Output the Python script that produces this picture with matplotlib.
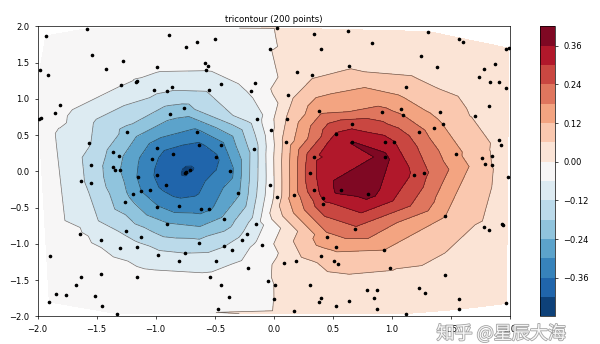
import numpy as np
import matplotlib
matplotlib.use('Agg')
import matplotlib.pyplot as plt
import matplotlib.tri as tri
import matplotlib.patheffects as pe

# sample points (200 scattered points)
x = [-1.93, -1.58, -1.98, -1.91, -1.54, -1.28, -1.42, -0.99, -1.29, -1.17,
     -1.16, -1.01, -1.81, -1.85, -1.97, -1.99, -1.24, -1.56, -1.36, -1.31,
     -1.55, -1.03, -0.99, -1.36, -1.34, -1.30,
     -0.89, -0.74, -0.65, -0.50, 0.03, -0.03, -0.58, -0.56, -0.57, -0.90,
     -0.86, -0.55, -0.45, -0.16, -0.19, -0.76, -0.88, -0.14, -0.025, -0.65,
     -0.63, -0.45, -0.85, -0.17, -0.49, -0.71, -0.74, -0.75, -0.37,
     -1.63, -1.55, -1.15, -0.99, -1.12, -1.05, -1.19, -1.26, -0.99, -1.64,
     -1.46, -1.25, -1.12, -1.30, -1.16, -0.98, -1.89, -1.46, -1.16, -1.63,
     -1.67, -1.84, -1.76, -1.51, -1.90, -1.45, -1.33, -0.91, -0.03, 0.025,
     -0.30, -0.80, -0.62, -0.55, -0.42, -0.90, -0.15, -0.23, -0.27, -0.63,
     -0.42, -0.35, -0.10, -0.75, -0.80, -0.49, -0.22, -0.54, -0.45, -0.05,
     0.008, -0.38, 0.003, -0.47,
     0.34, 0.63, 0.83, 0.40, 0.20, 0.32, 0.64, 0.12, 0.11, 0.38,
     0.92, 0.66, 0.53, 0.10, 0.66, 0.94, 1.02, 0.34, 0.94, 0.31,
     1.31, 1.57, 1.60, 1.97, 1.99, 1.25, 1.38, 1.87, 1.78, 1.74,
     1.83, 1.91, 1.97, 1.12, 1.82, 1.08, 1.09, 1.41, 1.70, 1.43,
     1.36, 1.23, 1.91, 1.92, 1.54, 1.85, 1.76, 1.79, 1.85, 1.27,
     0.17, 0.34, 0.57, 0.80, 0.42, 0.42, 0.69, 0.45, 0.53, 0.93,
     0.40, 0.085, 0.19, 0.51, 0.54, 0.98, 0.31, 0.79, 0.87, 0.40,
     0.38, 0.64, 0.85, 0.53, 0.87, 0.17, 1.19, 1.98, 1.45, 1.78,
     1.82, 1.93, 1.94, 1.45, 1.23, 1.28, 1.57, 1.57, 1.97, 1.12]

y = [1.87, 1.97, 1.40, 1.33, 1.60, 1.52, 1.41, 1.44, 1.19, 1.24,
     1.25, 1.12, 0.92, 0.81, 0.74, 0.73, 0.55, 0.39, 0.27, 0.22,
     0.09, 0.17, 0.33, 0.06, 0.02, 0.02,
     1.88, 1.72, 1.79, 1.83, 1.98, 1.69, 1.50, 1.46, 1.40, 1.11,
     1.16, 1.13, 1.20, 1.22, 1.11, 0.88, 0.79, 0.72, 0.57, 0.55,
     0.36, 0.37, 0.24, 0.31, 0.20, 0.02, -0.01, -0.02, 0.01,
     -0.13, -0.16, -0.08, -0.05, -0.27, -0.26, -0.31, -0.42, -0.49, -0.86,
     -0.94, -0.82, -0.91, -1.05, -1.04, -1.15, -1.16, -1.41, -1.45, -1.46,
     -1.57, -1.69, -1.71, -1.72, -1.80, -1.86, -1.96, -0.19, -0.18, -0.35,
     -0.30, -0.47, -0.52, -0.52, -0.66, -0.72, -0.72, -0.86, -0.95, -0.99,
     -1.03, -1.08, -1.02, -1.12, -1.24, -1.23, -1.33, -1.45, -1.56, -1.51,
     -1.56, -1.73, -1.76, -1.90,
     1.89, 1.94, 1.77, 1.69, 1.37, 1.33, 1.45, 1.05, 0.73, 0.83,
     0.82, 0.65, 0.52, 0.40, 0.40, 0.40, 0.41, 0.20, 0.20, -0.02,
     1.93, 1.83, 1.78, 1.69, 1.70, 1.59, 1.44, 1.48, 1.42, 1.30,
     1.24, 1.23, 1.15, 1.17, 0.91, 0.86, 0.78, 0.82, 0.76, 0.66,
     0.60, 0.55, 0.43, 0.37, 0.24, 0.22, 0.18, 0.10, 0.09, -0.02,
     -0.32, -0.25, -0.25, -0.31, -0.36, -0.45, -0.79, -0.90, -1.04, -1.08,
     -1.16, -1.26, -1.24, -1.23, -1.28, -1.33, -1.56, -1.63, -1.64, -1.75,
     -1.80, -1.79, -1.74, -1.85, -1.89, -1.93, -0.05, -0.08, -0.61, -0.77,
     -0.81, -0.72, -0.74, -1.43, -1.61, -1.67, -1.76, -1.90, -1.82, -1.96]

# value at each point, estimated from the colour bands
z = [-0.0014, -0.0028, -0.0055, -0.0084, -0.011, -0.025, -0.026, -0.047, -0.059, -0.063,
     -0.064, -0.103, -0.029, -0.032, -0.023, -0.023, -0.198, -0.117, -0.201, -0.225,
     -0.139, -0.346, -0.335, -0.216, -0.222, -0.240,
     -0.012, -0.022, -0.018, -0.014, 0.0007, -0.0017, -0.043, -0.049, -0.058, -0.117,
     -0.107, -0.112, -0.086, -0.036, -0.053, -0.197, -0.218, -0.082, -0.018, -0.314,
     -0.373, -0.319, -0.391, -0.153, -0.371, -0.429, -0.428, -0.428, -0.323,
     -0.112, -0.135, -0.304, -0.370, -0.301, -0.328, -0.259, -0.217, -0.293, -0.053,
     -0.071, -0.133, -0.139, -0.080, -0.104, -0.101, -0.014, -0.024, -0.037, -0.014,
     -0.0086, -0.0036, -0.0044, -0.0080, -0.0020, -0.0056, -0.0050, -0.385, -0.030, 0.022,
     -0.250, -0.340, -0.322, -0.310, -0.226, -0.237, -0.087, -0.102, -0.101, -0.161,
     -0.122, -0.097, -0.036, -0.122, -0.090, -0.084, -0.035, -0.050, -0.032, -0.0047,
     0.0007, -0.0165, 0.0001, -0.010,
     0.0084, 0.0099, 0.018, 0.020, 0.030, 0.049, 0.052, 0.039, 0.063, 0.163,
     0.199, 0.279, 0.306, 0.083, 0.363, 0.331, 0.302, 0.290, 0.373, 0.279,
     0.0056, 0.0047, 0.0052, 0.0023, 0.0021, 0.021, 0.026, 0.0062, 0.0099, 0.0155,
     0.0138, 0.011, 0.0108, 0.082, 0.029, 0.161, 0.181, 0.097, 0.054, 0.119,
     0.150, 0.199, 0.041, 0.042, 0.134, 0.057, 0.076, 0.072, 0.059, 0.255,
     0.152, 0.282, 0.387, 0.384, 0.310, 0.286, 0.230, 0.163, 0.136, 0.121,
     0.090, 0.017, 0.039, 0.087, 0.080, 0.065, 0.025, 0.029, 0.027, 0.016,
     0.013, 0.018, 0.020, 0.013, 0.012, 0.0039, 0.289, 0.039, 0.122, 0.042,
     0.034, 0.028, 0.026, 0.023, 0.021, 0.015, 0.0061, 0.0037, 0.0015, 0.0068]

cbar_ticks = [-0.36, -0.24, -0.12, 0.0, 0.12, 0.24, 0.36]

x = np.array(x)
y = np.array(y)
z = np.array(z)

plt.rcParams['contour.negative_linestyle'] = 'solid'

fig = plt.figure(figsize=(6.0, 3.44), dpi=100)
ax = fig.add_axes([0.0625, 0.08, 0.7875, 0.843])
cax = fig.add_axes([0.90, 0.08, 0.025, 0.843])

ax.tricontour(x, y, z, levels=14, linewidths=0.5, colors='k', alpha=0.55)
cntr = ax.tricontourf(x, y, z, levels=14, cmap="RdBu_r")
cb = fig.colorbar(cntr, cax=cax, ticks=cbar_ticks)
cb.ax.tick_params(labelsize=6, length=2.5, width=0.5)
cb.outline.set_linewidth(0.5)

ax.plot(x, y, 'ko', ms=1.6)
ax.set(xlim=(-2, 2), ylim=(-2, 2))
ax.set_title('tricontour (200 points)', fontsize=6.2, pad=3)
ax.tick_params(labelsize=6, length=2.5, width=0.5)
for s in ax.spines.values():
    s.set_linewidth(0.5)

# watermark in the corner
fig.text(0.835, 0.03, '知乎 @星辰大海', fontsize=13, color='white', alpha=0.9,
         family=['Noto Sans CJK SC', 'DejaVu Sans'], ha='center', va='center',
         path_effects=[pe.withStroke(linewidth=1.2, foreground='#9a9a9a')])

plt.savefig('out.png', dpi=100)
